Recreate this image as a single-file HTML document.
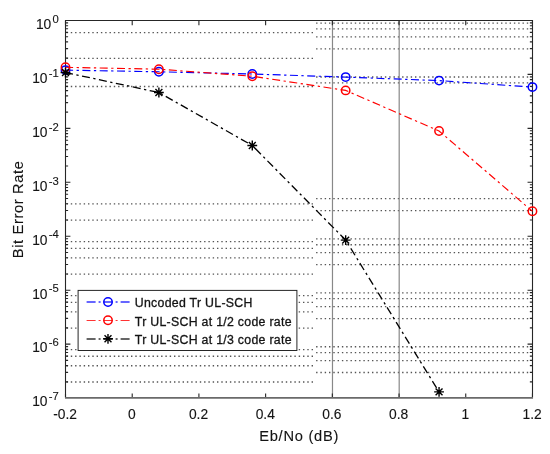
<!DOCTYPE html>
<html><head><meta charset="utf-8"><title>BER plot</title>
<style>
html,body{margin:0;padding:0;background:#fff;}
body{width:550px;height:454px;overflow:hidden;}
svg{display:block;}
text{font-family:"Liberation Sans", Arial, Helvetica, sans-serif;fill:#141414;stroke:#141414;stroke-width:0.12px;}
</style></head>
<body>
<svg width="550" height="454" viewBox="0 0 550 454">
<rect width="550" height="454" fill="#fff"/>
<g stroke="#555" stroke-width="1.3">
<line x1="66.50" y1="32.57" x2="313.00" y2="32.57" stroke-dasharray="1.4 2.90"/>
<line x1="66.50" y1="58.31" x2="313.00" y2="58.31" stroke-dasharray="1.4 2.90"/>
<line x1="66.50" y1="86.52" x2="313.00" y2="86.52" stroke-dasharray="1.4 2.90"/>
<line x1="66.50" y1="203.92" x2="313.00" y2="203.92" stroke-dasharray="1.4 2.90"/>
<line x1="66.50" y1="220.16" x2="313.00" y2="220.16" stroke-dasharray="1.4 2.90"/>
<line x1="66.50" y1="241.63" x2="313.00" y2="241.63" stroke-dasharray="1.4 2.90"/>
<line x1="66.50" y1="248.37" x2="313.00" y2="248.37" stroke-dasharray="1.4 2.90"/>
<line x1="66.50" y1="257.87" x2="313.00" y2="257.87" stroke-dasharray="1.4 2.90"/>
<line x1="66.50" y1="274.11" x2="313.00" y2="274.11" stroke-dasharray="1.4 2.90"/>
<line x1="66.50" y1="295.58" x2="313.00" y2="295.58" stroke-dasharray="1.4 2.90"/>
<line x1="66.50" y1="302.32" x2="313.00" y2="302.32" stroke-dasharray="1.4 2.90"/>
<line x1="66.50" y1="311.82" x2="313.00" y2="311.82" stroke-dasharray="1.4 2.90"/>
<line x1="66.50" y1="328.06" x2="313.00" y2="328.06" stroke-dasharray="1.4 2.90"/>
<line x1="66.50" y1="349.53" x2="313.00" y2="349.53" stroke-dasharray="1.4 2.90"/>
<line x1="66.50" y1="356.27" x2="313.00" y2="356.27" stroke-dasharray="1.4 2.90"/>
<line x1="66.50" y1="365.77" x2="313.00" y2="365.77" stroke-dasharray="1.4 2.90"/>
<line x1="66.50" y1="382.01" x2="313.00" y2="382.01" stroke-dasharray="1.4 2.90"/>
<line x1="316.10" y1="23.07" x2="528.20" y2="23.07" stroke-dasharray="1.4 2.90"/>
<line x1="316.10" y1="28.96" x2="528.20" y2="28.96" stroke-dasharray="1.4 2.90"/>
<line x1="316.10" y1="36.84" x2="528.20" y2="36.84" stroke-dasharray="1.4 2.90"/>
<line x1="316.10" y1="48.81" x2="528.20" y2="48.81" stroke-dasharray="1.4 2.90"/>
<line x1="316.10" y1="77.02" x2="528.20" y2="77.02" stroke-dasharray="1.4 2.90"/>
<line x1="316.10" y1="82.91" x2="528.20" y2="82.91" stroke-dasharray="1.4 2.90"/>
<line x1="316.10" y1="198.69" x2="528.20" y2="198.69" stroke-dasharray="1.4 2.90"/>
<line x1="316.10" y1="210.66" x2="528.20" y2="210.66" stroke-dasharray="1.4 2.90"/>
<line x1="316.10" y1="238.87" x2="528.20" y2="238.87" stroke-dasharray="1.4 2.90"/>
<line x1="316.10" y1="244.76" x2="528.20" y2="244.76" stroke-dasharray="1.4 2.90"/>
<line x1="316.10" y1="252.64" x2="528.20" y2="252.64" stroke-dasharray="1.4 2.90"/>
<line x1="316.10" y1="264.61" x2="528.20" y2="264.61" stroke-dasharray="1.4 2.90"/>
<line x1="316.10" y1="292.82" x2="528.20" y2="292.82" stroke-dasharray="1.4 2.90"/>
<line x1="316.10" y1="298.71" x2="528.20" y2="298.71" stroke-dasharray="1.4 2.90"/>
<line x1="316.10" y1="306.59" x2="528.20" y2="306.59" stroke-dasharray="1.4 2.90"/>
<line x1="316.10" y1="318.56" x2="528.20" y2="318.56" stroke-dasharray="1.4 2.90"/>
<line x1="316.10" y1="346.77" x2="528.20" y2="346.77" stroke-dasharray="1.4 2.90"/>
<line x1="316.10" y1="352.66" x2="528.20" y2="352.66" stroke-dasharray="1.4 2.90"/>
<line x1="316.10" y1="360.54" x2="528.20" y2="360.54" stroke-dasharray="1.4 2.90"/>
<line x1="316.10" y1="372.51" x2="528.20" y2="372.51" stroke-dasharray="1.4 2.90"/>
</g>
<line x1="332.48" y1="20.45" x2="332.48" y2="398.10" stroke="#888" stroke-width="1.2"/>
<line x1="399.19" y1="20.45" x2="399.19" y2="398.10" stroke="#888" stroke-width="1.2"/>
<path d="M65.50,398.10v-4.7M65.50,20.45v4.7M132.21,398.10v-4.7M132.21,20.45v4.7M198.91,398.10v-4.7M198.91,20.45v4.7M265.62,398.10v-4.7M265.62,20.45v4.7M332.33,398.10v-4.7M332.33,20.45v4.7M399.04,398.10v-4.7M399.04,20.45v4.7M465.74,398.10v-4.7M465.74,20.45v4.7M532.45,398.10v-4.7M532.45,20.45v4.7M65.5,20.45h4.9M532.45,20.45h-4.9M65.5,58.16h2.6M532.45,58.16h-2.6M65.5,48.66h2.6M532.45,48.66h-2.6M65.5,41.92h2.6M532.45,41.92h-2.6M65.5,36.69h2.6M532.45,36.69h-2.6M65.5,32.42h2.6M532.45,32.42h-2.6M65.5,28.81h2.6M532.45,28.81h-2.6M65.5,25.68h2.6M532.45,25.68h-2.6M65.5,22.92h2.6M532.45,22.92h-2.6M65.5,74.40h4.9M532.45,74.40h-4.9M65.5,112.11h2.6M532.45,112.11h-2.6M65.5,102.61h2.6M532.45,102.61h-2.6M65.5,95.87h2.6M532.45,95.87h-2.6M65.5,90.64h2.6M532.45,90.64h-2.6M65.5,86.37h2.6M532.45,86.37h-2.6M65.5,82.76h2.6M532.45,82.76h-2.6M65.5,79.63h2.6M532.45,79.63h-2.6M65.5,76.87h2.6M532.45,76.87h-2.6M65.5,128.35h4.9M532.45,128.35h-4.9M65.5,166.06h2.6M532.45,166.06h-2.6M65.5,156.56h2.6M532.45,156.56h-2.6M65.5,149.82h2.6M532.45,149.82h-2.6M65.5,144.59h2.6M532.45,144.59h-2.6M65.5,140.32h2.6M532.45,140.32h-2.6M65.5,136.71h2.6M532.45,136.71h-2.6M65.5,133.58h2.6M532.45,133.58h-2.6M65.5,130.82h2.6M532.45,130.82h-2.6M65.5,182.30h4.9M532.45,182.30h-4.9M65.5,220.01h2.6M532.45,220.01h-2.6M65.5,210.51h2.6M532.45,210.51h-2.6M65.5,203.77h2.6M532.45,203.77h-2.6M65.5,198.54h2.6M532.45,198.54h-2.6M65.5,194.27h2.6M532.45,194.27h-2.6M65.5,190.66h2.6M532.45,190.66h-2.6M65.5,187.53h2.6M532.45,187.53h-2.6M65.5,184.77h2.6M532.45,184.77h-2.6M65.5,236.25h4.9M532.45,236.25h-4.9M65.5,273.96h2.6M532.45,273.96h-2.6M65.5,264.46h2.6M532.45,264.46h-2.6M65.5,257.72h2.6M532.45,257.72h-2.6M65.5,252.49h2.6M532.45,252.49h-2.6M65.5,248.22h2.6M532.45,248.22h-2.6M65.5,244.61h2.6M532.45,244.61h-2.6M65.5,241.48h2.6M532.45,241.48h-2.6M65.5,238.72h2.6M532.45,238.72h-2.6M65.5,290.20h4.9M532.45,290.20h-4.9M65.5,327.91h2.6M532.45,327.91h-2.6M65.5,318.41h2.6M532.45,318.41h-2.6M65.5,311.67h2.6M532.45,311.67h-2.6M65.5,306.44h2.6M532.45,306.44h-2.6M65.5,302.17h2.6M532.45,302.17h-2.6M65.5,298.56h2.6M532.45,298.56h-2.6M65.5,295.43h2.6M532.45,295.43h-2.6M65.5,292.67h2.6M532.45,292.67h-2.6M65.5,344.15h4.9M532.45,344.15h-4.9M65.5,381.86h2.6M532.45,381.86h-2.6M65.5,372.36h2.6M532.45,372.36h-2.6M65.5,365.62h2.6M532.45,365.62h-2.6M65.5,360.39h2.6M532.45,360.39h-2.6M65.5,356.12h2.6M532.45,356.12h-2.6M65.5,352.51h2.6M532.45,352.51h-2.6M65.5,349.38h2.6M532.45,349.38h-2.6M65.5,346.62h2.6M532.45,346.62h-2.6" stroke="#262626" stroke-width="1.1" fill="none"/>
<path d="M65.5,397.10V20.45H532.50V397.10" stroke="#262626" stroke-width="1.1" fill="none"/>
<line x1="65.0" y1="397.85" x2="533.05" y2="397.85" stroke="#6a6a6a" stroke-width="1.75"/>
<polyline points="65.50,70.10 158.89,71.80 252.28,74.00 345.67,77.10 439.06,80.60 532.45,87.10" fill="none" stroke="#0000ff" stroke-width="1.15" stroke-dasharray="8 3.5 2.3 3.5" stroke-dashoffset="0.4"/>
<circle cx="65.50" cy="70.10" r="4.2" fill="none" stroke="#0000ff" stroke-width="1.5"/><circle cx="158.89" cy="71.80" r="4.2" fill="none" stroke="#0000ff" stroke-width="1.5"/><circle cx="252.28" cy="74.00" r="4.2" fill="none" stroke="#0000ff" stroke-width="1.5"/><circle cx="345.67" cy="77.10" r="4.2" fill="none" stroke="#0000ff" stroke-width="1.5"/><circle cx="439.06" cy="80.60" r="4.2" fill="none" stroke="#0000ff" stroke-width="1.5"/><circle cx="532.45" cy="87.10" r="4.2" fill="none" stroke="#0000ff" stroke-width="1.5"/>
<polyline points="65.50,67.30 158.89,69.20 252.28,76.20 345.67,90.40 439.06,131.00 532.45,211.30" fill="none" stroke="#ff0000" stroke-width="1.15" stroke-dasharray="8 3.5 2.3 3.5" stroke-dashoffset="0.4"/>
<circle cx="65.50" cy="67.30" r="4.2" fill="none" stroke="#ff0000" stroke-width="1.5"/><circle cx="158.89" cy="69.20" r="4.2" fill="none" stroke="#ff0000" stroke-width="1.5"/><circle cx="252.28" cy="76.20" r="4.2" fill="none" stroke="#ff0000" stroke-width="1.5"/><circle cx="345.67" cy="90.40" r="4.2" fill="none" stroke="#ff0000" stroke-width="1.5"/><circle cx="439.06" cy="131.00" r="4.2" fill="none" stroke="#ff0000" stroke-width="1.5"/><circle cx="532.45" cy="211.30" r="4.2" fill="none" stroke="#ff0000" stroke-width="1.5"/>
<polyline points="65.50,72.50 158.89,92.50 252.28,145.50 345.67,240.10 439.06,391.90" fill="none" stroke="#000000" stroke-width="1.3" stroke-dasharray="8 3.5 2.3 3.5" stroke-dashoffset="0.4"/>
<path d="M60.60,72.50H70.40M65.50,67.60V77.40M62.04,69.04L68.96,75.96M62.04,75.96L68.96,69.04M153.99,92.50H163.79M158.89,87.60V97.40M155.43,89.04L162.35,95.96M155.43,95.96L162.35,89.04M247.38,145.50H257.18M252.28,140.60V150.40M248.82,142.04L255.74,148.96M248.82,148.96L255.74,142.04M340.77,240.10H350.57M345.67,235.20V245.00M342.21,236.64L349.13,243.56M342.21,243.56L349.13,236.64M434.16,391.90H443.96M439.06,387.00V396.80M435.60,388.44L442.52,395.36M435.60,395.36L442.52,388.44" stroke="#000" stroke-width="1.4" fill="none"/>
<rect x="78.1" y="290.4" width="218.80" height="60.10" fill="#fff" stroke="#262626" stroke-width="1"/>
<line x1="86.6" y1="302.0" x2="129.9" y2="302.0" stroke="#0000ff" stroke-opacity="0.8" stroke-width="1.3" stroke-dasharray="9 3 2 3" />
<circle cx="108.0" cy="302.0" r="4.2" fill="none" stroke="#0000ff" stroke-width="1.5"/>
<text x="134.8" y="307.20" font-size="12.3" letter-spacing="0.3" style="stroke-width:0.3px">Uncoded Tr UL-SCH</text>
<line x1="86.6" y1="320.5" x2="129.9" y2="320.5" stroke="#ff0000" stroke-opacity="0.8" stroke-width="1.2" stroke-dasharray="9 3 2 3" />
<circle cx="108.0" cy="320.3" r="4.2" fill="none" stroke="#ff0000" stroke-width="1.5"/>
<text x="134.8" y="325.50" font-size="12.3" letter-spacing="0.3" style="stroke-width:0.3px">Tr UL-SCH at 1/2 code rate</text>
<line x1="86.6" y1="339.0" x2="129.9" y2="339.0" stroke="#000000" stroke-opacity="0.8" stroke-width="1.3" stroke-dasharray="9 3 2 3" />
<path d="M103.10,338.80H112.90M108.00,333.90V343.70M104.54,335.34L111.46,342.26M104.54,342.26L111.46,335.34" stroke="#000" stroke-width="1.4" fill="none"/>
<text x="134.8" y="344.00" font-size="12.3" letter-spacing="0.3" style="stroke-width:0.3px">Tr UL-SCH at 1/3 code rate</text>
<text x="58.7" y="28.75" text-anchor="end" font-size="13.8">10<tspan font-size="11.3" dx="1.1" dy="-6.1">0</tspan></text>
<text x="58.7" y="82.70" text-anchor="end" font-size="13.8">10<tspan font-size="11.3" dx="1.1" dy="-6.1">-1</tspan></text>
<text x="58.7" y="136.65" text-anchor="end" font-size="13.8">10<tspan font-size="11.3" dx="1.1" dy="-6.1">-2</tspan></text>
<text x="58.7" y="190.60" text-anchor="end" font-size="13.8">10<tspan font-size="11.3" dx="1.1" dy="-6.1">-3</tspan></text>
<text x="58.7" y="244.55" text-anchor="end" font-size="13.8">10<tspan font-size="11.3" dx="1.1" dy="-6.1">-4</tspan></text>
<text x="58.7" y="298.50" text-anchor="end" font-size="13.8">10<tspan font-size="11.3" dx="1.1" dy="-6.1">-5</tspan></text>
<text x="58.7" y="352.45" text-anchor="end" font-size="13.8">10<tspan font-size="11.3" dx="1.1" dy="-6.1">-6</tspan></text>
<text x="58.7" y="406.40" text-anchor="end" font-size="13.8">10<tspan font-size="11.3" dx="1.1" dy="-6.1">-7</tspan></text>
<text x="65.10" y="418.9" text-anchor="middle" font-size="13.8">-0.2</text>
<text x="131.81" y="418.9" text-anchor="middle" font-size="13.8">0</text>
<text x="198.51" y="418.9" text-anchor="middle" font-size="13.8">0.2</text>
<text x="265.22" y="418.9" text-anchor="middle" font-size="13.8">0.4</text>
<text x="331.93" y="418.9" text-anchor="middle" font-size="13.8">0.6</text>
<text x="398.64" y="418.9" text-anchor="middle" font-size="13.8">0.8</text>
<text x="465.34" y="418.9" text-anchor="middle" font-size="13.8">1</text>
<text x="532.05" y="418.9" text-anchor="middle" font-size="13.8">1.2</text>
<text x="299.2" y="441.2" text-anchor="middle" font-size="14.67" letter-spacing="0.75">Eb/No (dB)</text>
<text transform="translate(23.2,209.3) rotate(-90)" x="0" y="0" text-anchor="middle" font-size="14.67" letter-spacing="0.65">Bit Error Rate</text>
</svg>
</body></html>
